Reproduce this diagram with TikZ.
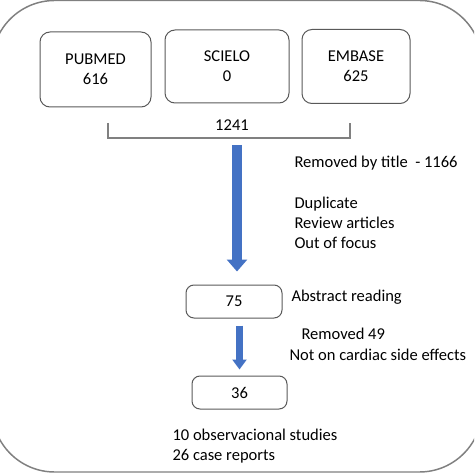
\documentclass[tikz,border=0pt]{standalone}
\usepackage{fontspec}
\setmainfont{Carlito}
\usetikzlibrary{arrows.meta}

\definecolor{boxline}{RGB}{89,89,89}
\definecolor{frameline}{RGB}{128,128,128}
\definecolor{arrowblue}{RGB}{68,114,196}

\tikzset{every picture/.style={line width=0.75pt}}
\tikzset{
  srcbox/.style={draw=boxline, rounded corners=7.5pt, align=center, inner sep=0pt,
    font=\fontsize{12.4}{15}\selectfont},
  countbox/.style={draw=boxline, rounded corners=6pt, inner sep=0pt,
    font=\fontsize{12.4}{15}\selectfont},
  note/.style={anchor=west, inner sep=0pt, align=left,
    font=\fontsize{12.4}{15}\selectfont},
  bigflow/.style={draw=arrowblue, line width=7.5pt,
    -{Triangle[width=15pt,length=9pt]}},
  smallflow/.style={draw=arrowblue, line width=5pt,
    -{Triangle[width=10.5pt,length=7.5pt]}}
}

\begin{document}
\begin{tikzpicture}[x=0.75pt,y=0.75pt,yscale=-1]
\useasboundingbox (0,0) rectangle (474,474);
\clip (0,0) rectangle (474,474);

%Outer frame
\draw[frameline, line width=1.1pt, rounded corners=47pt] (-8,0.5) rectangle (482,472);

% Source boxes
\node[srcbox, minimum width=83.25pt, minimum height=56.25pt] (pubmed) at (95.5,69.5) {PUBMED\\616};
\node[srcbox, minimum width=93pt, minimum height=54.75pt] (scielo) at (227,66.5) {SCIELO\\0};
\node[srcbox, minimum width=81pt, minimum height=55.5pt] (embase) at (356,66.5) {EMBASE\\625};

%Bracket
\coordinate (brl) at (108,123);
\coordinate (brr) at (350,123);
\draw[frameline, line width=1pt] (brl) -- (brl |- 0,138) -- (brr |- 0,138) -- (brr);
% Text Node
\node[note, anchor=center] (total) at (232,125) {1241};

% Count boxes
\node[countbox, minimum width=72pt, minimum height=24.75pt] (read) at (234,301.5) {75};
\node[countbox, minimum width=71.25pt, minimum height=24.75pt] (final) at (239.5,392.5) {36};

%Arrows
\coordinate (flowtop) at (237,145);
\draw[bigflow, shorten >=9.75pt] (flowtop) -- (flowtop |- read.north);
\draw[smallflow, shorten <=5.25pt, shorten >=4.5pt] (final.north |- read.south) -- (final.north);

% Text Node
\node[note] (title) at (294,163) {Removed by title\ \ - 1166};
% Text Node
\node[note] (reasons) at (294,223) {Duplicate\\Review articles\\Out of focus};
% Text Node
\node[note] (abstract) at (291,297) {Abstract reading};
% Text Node
\node[note] (removed) at (301,334) {Removed 49};
% Text Node
\node[note] (cardiac) at (289,355) {Not on cardiac side effects};
% Text Node
\node[note] (studies) at (172,446) {10 observacional studies\\26 case reports};

\end{tikzpicture}
\end{document}
